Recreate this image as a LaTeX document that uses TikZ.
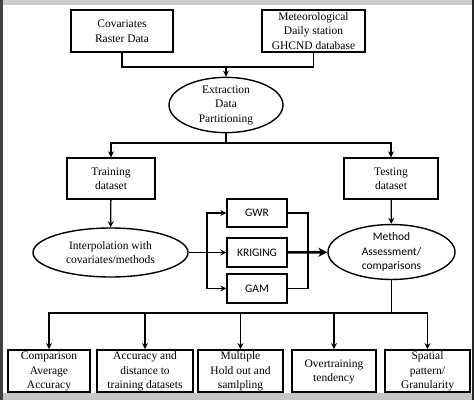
\documentclass[tikz,border=0pt]{standalone}
\usepackage{fontspec}
\setmainfont{Liberation Serif}
\newfontfamily\calib{Carlito}
\usetikzlibrary{arrows.meta,shapes.geometric}

\begin{document}
\begin{tikzpicture}[
			x=1pt,y=-1pt,
			font=\fontsize{11.5}{14.5}\selectfont,
			box/.style={draw,line width=1.4pt,align=center,inner sep=0pt,minimum height=42pt},
			oval/.style={draw,ellipse,line width=1.4pt,align=center,inner sep=0pt},
			method/.style={box,font=\calib\fontsize{11.5}{14.5}\selectfont,minimum width=60pt,minimum height=28pt},
			result/.style={box,line width=1.8pt,minimum height=42pt,text depth=1pt},
			link/.style={line width=1.3pt},
			arrow/.style={link,-{Stealth[length=6pt,width=6pt,inset=2pt]}},
			bigarrow/.style={line width=2.6pt,-{Stealth[length=9pt,width=9pt,inset=3pt]}}
		]
		\useasboundingbox (0,0) rectangle (474,400);
		% scan frame
		\fill[gray!40] (0,0) rectangle (474,4.5);
		\fill[gray!45] (0,393) rectangle (474,400);
		\fill[black!75] (0,0) rectangle (2.5,400);
		\fill[black!85] (471.5,0) rectangle (474,400);

		% input data
		\node[box,minimum width=102pt] (cov) at (122,31) {Covariates\\Raster Data};
		\node[box,minimum width=103pt] (met) at (313.5,31) {Meteorological\\Daily station\\GHCND database};
		\node[oval,minimum width=114pt,minimum height=44pt] (ext) at (226,105) {Extraction\\Data\\Partitioning};

		% partitions
		\node[box,minimum width=88pt,minimum height=41pt] (train) at (111,178.5) {Training\\dataset};
		\node[box,minimum width=94pt,minimum height=41pt] (test) at (391,178.5) {Testing\\dataset};
		\node[oval,minimum width=155pt,minimum height=49pt] (interp) at (110.5,252.5) {Interpolation with\\covariates/methods};
		\node[oval,minimum width=127pt,minimum height=50pt,font=\calib\fontsize{11.5}{14.5}\selectfont] (assess) at (391.5,252) {Method\\Assessment/\\comparisons};

		% methods
		\node[method] (gwr) at (257,213) {GWR};
		\node[method,minimum height=29pt] (krig) at (257,252.5) {KRIGING};
		\node[method,minimum height=29pt] (gam) at (257,288.5) {GAM};

		% results
		\node[result,minimum width=82pt] (comp) at (49,371) {Comparison\\Average\\Accuracy};
		\node[result,minimum width=96pt] (dist) at (145,371) {Accuracy and\\distance to\\training datasets};
		\node[result,minimum width=85pt] (hold) at (240.5,371) {Multiple\\Hold out and\\samlpling};
		\node[result,minimum width=84pt] (over) at (334,371) {Overtraining\\tendency};
		\node[result,minimum width=85pt] (spat) at (427.5,371) {Spatial\\pattern/\\Granularity};

		% junctions
		\coordinate (j1) at (226,67);
		\coordinate (j2) at (226,143);
		\coordinate (j3) at (207,252.5);
		\coordinate (j4) at (308,252.5);
		\coordinate (j5) at (391.5,313);

		\draw[link] (cov) |- (j1) -| (met);
		\draw[arrow] (j1) -- (ext);
		\draw[link] (ext) -- (j2);
		\draw[arrow] (j2) -| (train);
		\draw[arrow] (j2) -| (test);
		\draw[arrow] (train) -- (interp);
		\draw[arrow] (test) -- (assess);
		\draw[arrow] (interp) -- (krig);
		\draw[arrow] (j3) |- (gwr);
		\draw[arrow] (j3) |- (gam);
		\draw[link] (gwr) -| (j4) |- (gam);
		\draw[bigarrow] (krig) -- (assess);
		\draw[link] (assess) -- (j5);
		\foreach \r in {comp,dist,hold,over,spat}
			\draw[arrow] (j5) -| (\r);
	\end{tikzpicture}
\end{document}
